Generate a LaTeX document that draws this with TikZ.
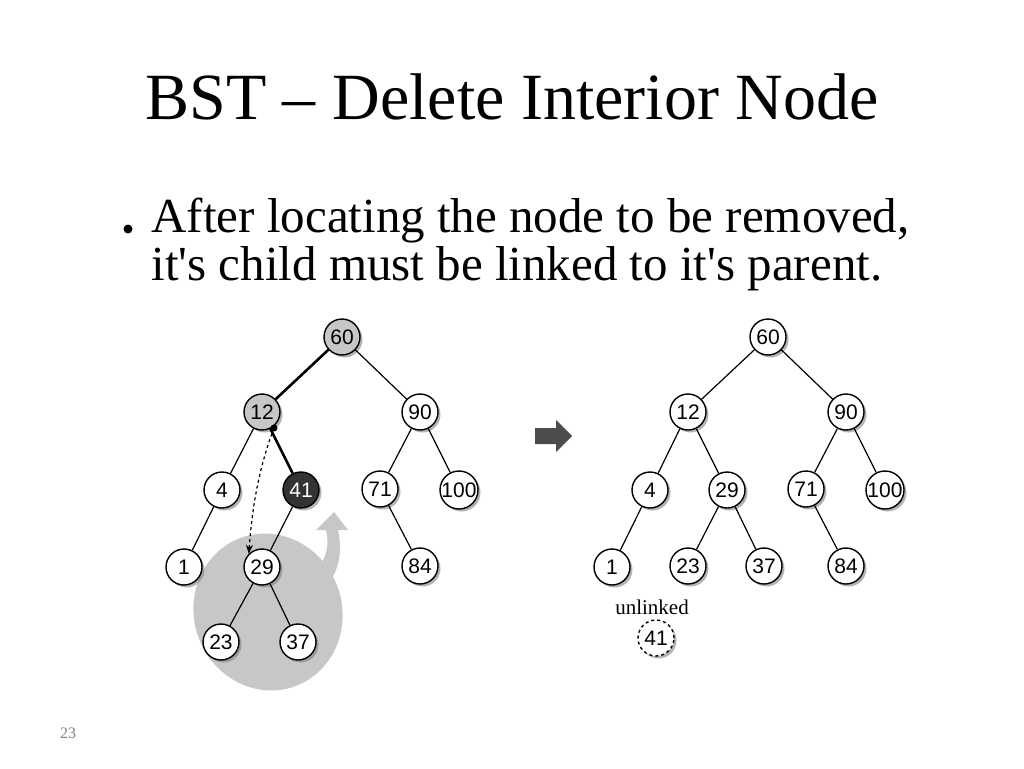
\documentclass[tikz,border=0pt]{standalone}
\usepackage{fontspec}
\setmainfont{Liberation Serif}[Ligatures=TeXOff]
\newfontfamily\nodefont{Liberation Sans}
\usetikzlibrary{shadows,arrows.meta}
\begin{document}
\begin{tikzpicture}[x=1pt,y=-1pt,
  bn/.style={circle,draw,line width=1.4pt,fill=white,minimum size=36pt,inner sep=0pt,font=\nodefont\fontsize{21}{21}\selectfont,drop shadow={shadow xshift=2.5pt,shadow yshift=-2.5pt,fill=black!50,opacity=0.6}},
  hl/.style={bn,fill=black!22},
  dk/.style={bn,fill=black!80,text=white},
  ed/.style={line width=1.2pt}]
\useasboundingbox (0,0) rectangle (1024,768);
\node[font=\fontsize{66}{66}\selectfont] (title) at (512,97) {BST – Delete Interior Node};
\fill (128,229) circle (4.5);
\coordinate (bul) at (128,229);
\node[anchor=west,align=left,font=\fontsize{49}{48}\selectfont] (txt) at (148,244) {After locating the node to be removed,\\it's child must be linked to it's parent.};
\node[text=black!50,font=\fontsize{16}{16}\selectfont] (pg) at (68,733) {23};
% gray ellipse and arrow
\fill[black!22,rotate around={20:(268,612)}] (268,612) ellipse (74 and 79);
\fill[black!22] (318,570) .. controls (330,550) and (328,540) .. (326,530) -- (316,530) -- (334,512) -- (348,530) -- (338,530) .. controls (342,548) and (340,565) .. (332,578) -- cycle;
% left tree
\node[hl] (a60) at (342,337) {60};
\node[hl] (a12) at (262,412) {12};
\node[bn] (a90) at (420,412) {90};
\node[bn] (a4) at (222,490) {4};
\node[dk] (a41) at (301,490) {41};
\node[bn] (a71) at (380,489) {71};
\node[bn] (a100) at (459,490) {100};
\node[bn] (a1) at (184,567) {1};
\node[bn] (a29) at (262,567) {29};
\node[bn] (a84) at (420,566) {84};
\node[bn] (a23) at (221,642) {23};
\node[bn] (a37) at (298,642) {37};
\draw[line width=2.6pt] (a60) -- (a12);
\draw[ed] (a60) -- (a90);
\draw[ed] (a12) -- (a4);
\draw[line width=2.6pt] (a12) -- (a41);
\draw[ed] (a90) -- (a71);
\draw[ed] (a90) -- (a100);
\draw[ed] (a4) -- (a1);
\draw[ed] (a41) -- (a29);
\draw[ed] (a71) -- (a84);
\draw[ed] (a29) -- (a23);
\draw[ed] (a29) -- (a37);
\coordinate (dot) at (274,428);
\fill (dot) circle (3.5);
\draw[line width=1.2pt,dashed,-{Stealth[length=9pt,width=7pt]}] (dot) .. controls (258,470) and (252,510) .. (a29.north west);
% block arrow
\fill[black!70] (535,428) -- (556,428) -- (556,420) -- (572,436) -- (556,452) -- (556,444) -- (535,444) -- cycle;
% right tree
\node[bn] (b60) at (768,337) {60};
\node[bn] (b12) at (688,412) {12};
\node[bn] (b90) at (846,412) {90};
\node[bn] (b4) at (650,490) {4};
\node[bn] (b29) at (727,490) {29};
\node[bn] (b71) at (806,489) {71};
\node[bn] (b100) at (885,490) {100};
\node[bn] (b1) at (612,567) {1};
\node[bn] (b23) at (688,566) {23};
\node[bn] (b37) at (764,566) {37};
\node[bn] (b84) at (846,566) {84};
\draw[ed] (b60) -- (b12);
\draw[ed] (b60) -- (b90);
\draw[ed] (b12) -- (b4);
\draw[ed] (b12) -- (b29);
\draw[ed] (b90) -- (b71);
\draw[ed] (b90) -- (b100);
\draw[ed] (b4) -- (b1);
\draw[ed] (b29) -- (b23);
\draw[ed] (b29) -- (b37);
\draw[ed] (b71) -- (b84);
\node[font=\fontsize{21}{21}\selectfont] (unl) at (652,607) {unlinked};
\node[bn,dashed] (b41) at (656,638) {41};
\end{tikzpicture}
\end{document}
